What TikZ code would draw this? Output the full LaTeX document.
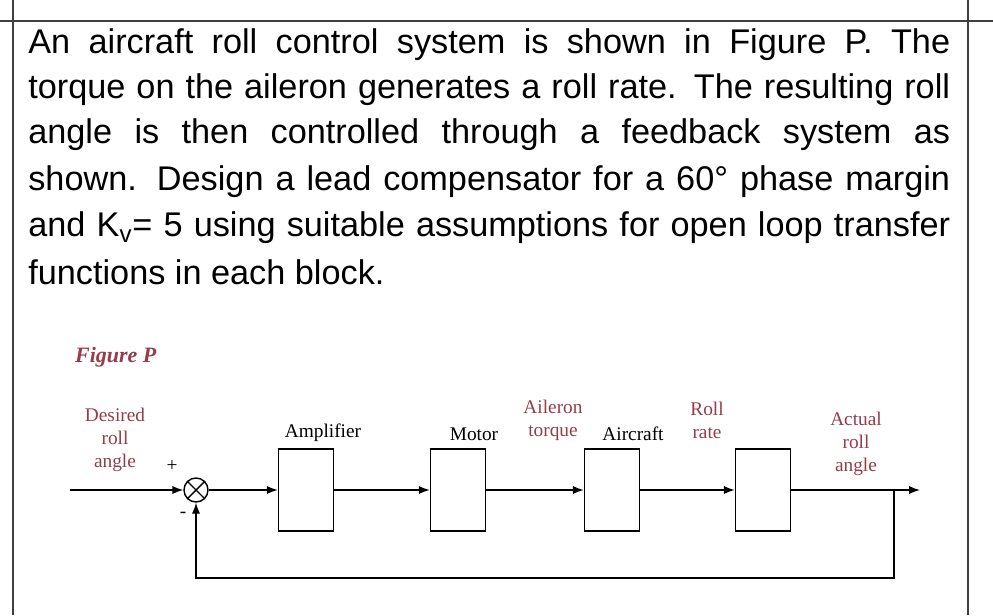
\documentclass[tikz,border=0pt]{standalone}
\usepackage{fontspec}
\setmainfont{Liberation Sans}
\newfontfamily\diagfont{Liberation Serif}
\usetikzlibrary{arrows.meta,positioning}
\definecolor{lblred}{RGB}{150,60,75}
\tikzset{blk/.append style={draw,thick,minimum width=1.1cm,minimum height=1.64cm,inner sep=0pt}}
\tikzset{txtline/.append style={anchor=west,inner sep=0pt,font=\fontsize{19.5}{24}\selectfont}}
\tikzset{lbl/.append style={align=center,inner sep=0pt,font=\diagfont\fontsize{11}{13}\selectfont}}
\tikzset{sig/.append style={thick,-{Latex[length=2.2mm]}}}
\begin{document}
\begin{tikzpicture}[x=0.02cm,y=-0.02cm]
                \useasboundingbox (0,0) rectangle (993,615);
                % frame
                \draw[thick,black!75] (0,21) -- (993,21);
                \draw[thick,black!75] (13,0) -- (13,615);
                \draw[thick,black!75] (968,0) -- (968,615);
                % question text
                \node[txtline] (l1) at (28,45) {\makebox[18.44cm][s]{An aircraft roll control system is shown in Figure P. The}};
                \node[txtline] (l2) at (28,90) {\makebox[18.44cm][s]{torque on the aileron generates a roll rate. The resulting roll}};
                \node[txtline] (l3) at (28,135) {\makebox[18.44cm][s]{angle is then controlled through a feedback system as}};
                \node[txtline] (l4) at (28,182) {\makebox[18.44cm][s]{shown. Design a lead compensator for a 60\textdegree{} phase margin}};
                \node[txtline] (l5) at (28,228) {\makebox[18.44cm][s]{and K\textsubscript{v}= 5 using suitable assumptions for open loop transfer}};
                \node[txtline] (l6) at (28,272) {functions in each block.};
                % figure
                \node[anchor=west,text=lblred,font=\diagfont\bfseries\itshape\fontsize{12.5}{15}\selectfont] (fig) at (69,357) {Figure P};
                \coordinate (in) at (70,490);
                \node[draw,thick,circle,minimum size=0.48cm,inner sep=0pt] (sum) at (196,490) {};
                \draw[thick] (sum.north west) -- (sum.south east) (sum.north east) -- (sum.south west);
                \node[blk] (amp) at (306,490) {};
                \node[blk] (mot) at (458,490) {};
                \node[blk] (air) at (612,490) {};
                \node[blk] (blk4) at (763,490) {};
                \coordinate (out) at (920,490);
                \coordinate (tap) at (894,490);
                \coordinate (fb) at (894,578);
                \draw[sig] (in) -- (sum);
                \draw[sig] (sum) -- (amp);
                \draw[sig] (amp) -- (mot);
                \draw[sig] (mot) -- (air);
                \draw[sig] (air) -- (blk4);
                \draw[sig] (blk4) -- (out);
                \draw[sig] (tap) -- (fb) -| (sum);
                % labels
                \node[lbl,text=lblred] (desired) at (115,440) {Desired\\roll\\angle};
                \node[lbl] (plus) at (172,466) {+};
                \node[lbl] (minus) at (183,515) {-};
                \node[lbl] (ampl) at (323,433) {Amplifier};
                \node[lbl] (motl) at (474,434) {Motor};
                \node[lbl,text=lblred] (torq) at (553,420) {Aileron\\torque};
                \node[lbl] (airl) at (633,434) {Aircraft};
                \node[lbl,text=lblred] (rate) at (707,420) {Roll\\rate};
                \node[lbl,text=lblred] (actual) at (856,444) {Actual\\roll\\angle};
            \end{tikzpicture}
\end{document}
